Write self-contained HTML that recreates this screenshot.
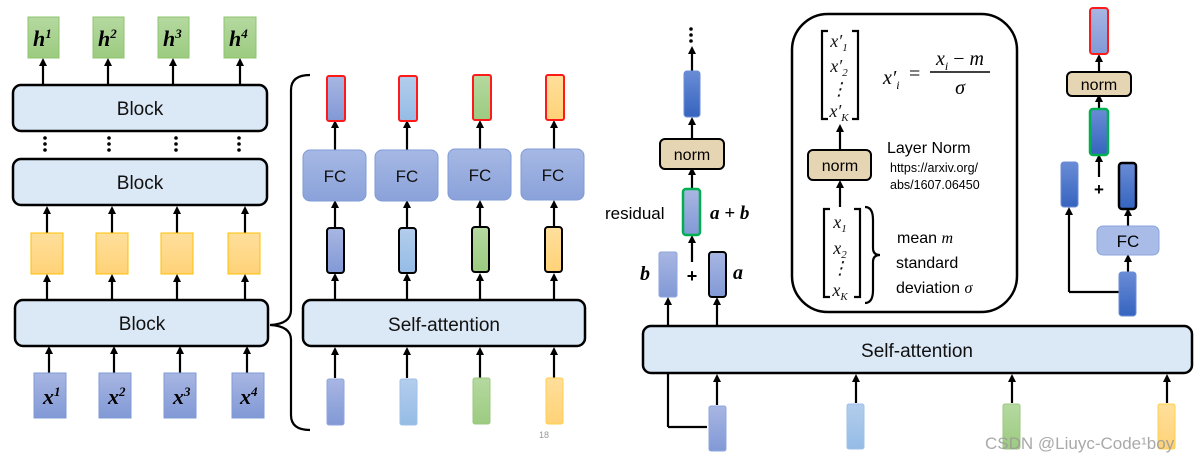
<!DOCTYPE html>
<html><head><meta charset="utf-8"><style>
html,body{margin:0;padding:0;background:#fff}
svg{display:block;font-family:"Liberation Sans",sans-serif}
.m,.m text{font-family:"Liberation Serif",serif;font-style:italic}
.mb,.mb text{font-family:"Liberation Serif",serif;font-style:italic;font-weight:bold}
</style></head><body>
<svg width="1203" height="463" viewBox="0 0 1203 463" xmlns="http://www.w3.org/2000/svg">
<defs>
<marker id="ar" markerWidth="8" markerHeight="8" refX="4" refY="4" orient="auto" markerUnits="userSpaceOnUse">
<path d="M0,0 L8,4 L0,8 z" fill="#000"/></marker>
<linearGradient id="gG" x1="0" y1="0" x2="0" y2="1"><stop offset="0" stop-color="#b5d9a0"/><stop offset="1" stop-color="#9ccb80"/></linearGradient>
<linearGradient id="gY" x1="0" y1="0" x2="0" y2="1"><stop offset="0" stop-color="#ffdf9c"/><stop offset="1" stop-color="#ffd277"/></linearGradient>
<linearGradient id="gB" x1="0" y1="0" x2="0" y2="1"><stop offset="0" stop-color="#a8b6e2"/><stop offset="1" stop-color="#8199d6"/></linearGradient>
<linearGradient id="gL" x1="0" y1="0" x2="0" y2="1"><stop offset="0" stop-color="#b3cdec"/><stop offset="1" stop-color="#95bce6"/></linearGradient>
<linearGradient id="gD" x1="0" y1="0" x2="0" y2="1"><stop offset="0" stop-color="#6a8cd6"/><stop offset="1" stop-color="#3564bf"/></linearGradient>
<linearGradient id="gF" x1="0" y1="0" x2="0" y2="1"><stop offset="0" stop-color="#a6b8e4"/><stop offset="1" stop-color="#8aa2da"/></linearGradient>
</defs>
<g stroke="#000" stroke-width="2.2" marker-end="url(#ar)">
<line x1="43" y1="85" x2="43" y2="62"/><line x1="108" y1="85" x2="108" y2="62"/><line x1="173" y1="85" x2="173" y2="62"/><line x1="240" y1="85" x2="240" y2="62"/>
<line x1="47" y1="233" x2="47" y2="210"/><line x1="112" y1="233" x2="112" y2="210"/><line x1="177" y1="233" x2="177" y2="210"/><line x1="245" y1="233" x2="245" y2="210"/>
<line x1="47" y1="300" x2="47" y2="278"/><line x1="112" y1="300" x2="112" y2="278"/><line x1="177" y1="300" x2="177" y2="278"/><line x1="245" y1="300" x2="245" y2="278"/>
<line x1="49" y1="373" x2="49" y2="350"/><line x1="114" y1="373" x2="114" y2="350"/><line x1="180" y1="373" x2="180" y2="350"/><line x1="247" y1="373" x2="247" y2="350"/>
<line x1="335" y1="150" x2="335" y2="124"/><line x1="407" y1="150" x2="407" y2="124"/><line x1="480" y1="150" x2="480" y2="124"/><line x1="554" y1="150" x2="554" y2="124"/>
<line x1="335" y1="228" x2="335" y2="204"/><line x1="407" y1="228" x2="407" y2="204"/><line x1="480" y1="228" x2="480" y2="204"/><line x1="554" y1="228" x2="554" y2="204"/>
<line x1="335" y1="300" x2="335" y2="277"/><line x1="407" y1="300" x2="407" y2="277"/><line x1="480" y1="300" x2="480" y2="277"/><line x1="554" y1="300" x2="554" y2="277"/>
<line x1="335" y1="378" x2="335" y2="351"/><line x1="407" y1="378" x2="407" y2="351"/><line x1="480" y1="378" x2="480" y2="351"/><line x1="554" y1="378" x2="554" y2="351"/>
<line x1="692" y1="71" x2="692" y2="50"/><line x1="692" y1="139" x2="692" y2="121"/>
<line x1="692" y1="189" x2="692" y2="171"/><line x1="692" y1="262" x2="692" y2="239"/>
<line x1="717" y1="326" x2="717" y2="301"/><line x1="668" y1="427" x2="668" y2="301"/>
<line x1="717" y1="405" x2="717" y2="378"/><line x1="856" y1="403" x2="856" y2="378"/><line x1="1012" y1="403" x2="1012" y2="378"/><line x1="1167" y1="403" x2="1167" y2="378"/>
<line x1="840" y1="150" x2="840" y2="128"/><line x1="840" y1="207" x2="840" y2="184"/>
<line x1="1099" y1="72" x2="1099" y2="58"/><line x1="1099" y1="109" x2="1099" y2="98"/>
<line x1="1099" y1="177" x2="1099" y2="158"/><line x1="1128" y1="226" x2="1128" y2="212"/>
<line x1="1128" y1="272" x2="1128" y2="258"/><line x1="1069" y1="292" x2="1069" y2="211"/>
</g>
<g stroke="#000" stroke-width="2.2" fill="none">
<polyline points="707,427 668,427"/>
<polyline points="1119,292 1069,292"/>
<path d="M310,75 Q291,75 291,90 L291,310 Q291,324 270,325 Q291,326 291,340 L291,415 Q291,430 310,430"/>
<path d="M865,207 Q873,207 873,220 L873,248 Q873,255 880,255 Q873,255 873,262 L873,290 Q873,303 865,303"/>
<path d="M828,31 L822,31 L822,119 L828,119 M852,31 L858,31 L858,119 L852,119"/>
<path d="M830,209 L824,209 L824,297 L830,297 M854,209 L860,209 L860,297 L854,297"/>
<line x1="930" y1="72" x2="990" y2="72" stroke-width="1.5"/>
</g>
<g fill="#000">
<circle cx="45" cy="138" r="1.8"/><circle cx="45" cy="144" r="1.8"/><circle cx="45" cy="150" r="1.8"/>
<circle cx="109" cy="138" r="1.8"/><circle cx="109" cy="144" r="1.8"/><circle cx="109" cy="150" r="1.8"/>
<circle cx="176" cy="138" r="1.8"/><circle cx="176" cy="144" r="1.8"/><circle cx="176" cy="150" r="1.8"/>
<circle cx="239" cy="138" r="1.8"/><circle cx="239" cy="144" r="1.8"/><circle cx="239" cy="150" r="1.8"/>
<circle cx="691" cy="29" r="1.8"/><circle cx="691" cy="35" r="1.8"/><circle cx="691" cy="41" r="1.8"/>
</g>
<g stroke="#8cc46e" stroke-width="1" fill="url(#gG)">
<rect x="28" y="17" width="31" height="41"/><rect x="93" y="17" width="31" height="41"/><rect x="158" y="17" width="31" height="41"/><rect x="224" y="17" width="32" height="41"/>
</g>
<g class="mb" font-size="22" fill="#000">
<text x="33" y="46">h<tspan font-size="13" dy="-8">1</tspan></text>
<text x="98" y="46">h<tspan font-size="13" dy="-8">2</tspan></text>
<text x="163" y="46">h<tspan font-size="13" dy="-8">3</tspan></text>
<text x="229" y="46">h<tspan font-size="13" dy="-8">4</tspan></text>
</g>
<g stroke="#000" stroke-width="2.5" fill="#dbe8f6">
<rect x="13" y="85" width="254" height="46" rx="8"/>
<rect x="13" y="159" width="254" height="46" rx="8"/>
<rect x="15" y="300" width="253" height="46" rx="8"/>
<rect x="303" y="300" width="282" height="46" rx="8"/>
<rect x="643" y="326" width="549" height="47" rx="8"/>
</g>
<g font-size="19" text-anchor="middle" fill="#111">
<text x="140" y="115">Block</text><text x="140" y="189">Block</text><text x="142" y="330">Block</text>
<text x="444" y="331">Self-attention</text><text x="917" y="357">Self-attention</text>
</g>
<g stroke="#ffc000" stroke-width="1" fill="url(#gY)">
<rect x="31" y="233" width="32" height="41"/><rect x="96" y="233" width="32" height="41"/><rect x="161" y="233" width="32" height="41"/><rect x="228" y="233" width="32" height="41"/>
</g>
<g stroke="#7f9bd6" stroke-width="1" fill="url(#gB)">
<rect x="34" y="373" width="32" height="45"/><rect x="99" y="373" width="32" height="45"/><rect x="164" y="373" width="32" height="45"/><rect x="232" y="373" width="32" height="45"/>
</g>
<g class="mb" font-size="22" fill="#000">
<text x="43" y="404">x<tspan font-size="13" dy="-8">1</tspan></text>
<text x="108" y="404">x<tspan font-size="13" dy="-8">2</tspan></text>
<text x="173" y="404">x<tspan font-size="13" dy="-8">3</tspan></text>
<text x="240" y="404">x<tspan font-size="13" dy="-8">4</tspan></text>
</g>
<g stroke="#ff1a1a" stroke-width="2">
<rect x="327" y="76" width="18" height="45" rx="2" fill="url(#gB)"/>
<rect x="399" y="76" width="18" height="45" rx="2" fill="url(#gL)"/>
<rect x="473" y="75" width="18" height="45" rx="2" fill="url(#gG)"/>
<rect x="546" y="75" width="18" height="45" rx="2" fill="url(#gY)"/>
</g>
<g stroke="#7f9bd6" stroke-width="1" fill="url(#gF)">
<rect x="303" y="150" width="63" height="51" rx="7"/><rect x="375" y="150" width="63" height="51" rx="7"/>
<rect x="448" y="149" width="63" height="51" rx="7"/><rect x="521" y="149" width="63" height="51" rx="7"/>
</g>
<g font-size="17" text-anchor="middle" fill="#111">
<text x="335" y="182">FC</text><text x="407" y="182">FC</text><text x="480" y="181">FC</text><text x="553" y="181">FC</text>
</g>
<g stroke="#000" stroke-width="2">
<rect x="327" y="228" width="17" height="45" rx="3" fill="url(#gB)"/>
<rect x="399" y="228" width="17" height="45" rx="3" fill="url(#gL)"/>
<rect x="472" y="227" width="17" height="45" rx="3" fill="url(#gG)"/>
<rect x="545" y="227" width="17" height="45" rx="3" fill="url(#gY)"/>
</g>
<rect x="327" y="379" width="17" height="46" rx="2" fill="url(#gB)" stroke="#8fa6dc"/>
<rect x="400" y="379" width="17" height="46" rx="2" fill="url(#gL)" stroke="#9fc0e8"/>
<rect x="473" y="378" width="17" height="46" rx="2" fill="url(#gG)" stroke="#9cc780"/>
<rect x="546" y="378" width="17" height="46" rx="2" fill="url(#gY)" stroke="#ffd04a"/>
<text x="539" y="438" font-size="9" fill="#999">18</text>
<rect x="684" y="71" width="16" height="46" rx="3" fill="url(#gD)" stroke="#6b8dd6"/>
<rect x="660" y="139" width="64" height="30" rx="5" fill="#e6d5b3" stroke="#000" stroke-width="2"/>
<text x="692" y="160" font-size="16" text-anchor="middle">norm</text>
<rect x="683" y="189" width="17" height="46" rx="3" fill="url(#gB)" stroke="#00b050" stroke-width="2.5"/>
<text x="605" y="219" font-size="17">residual</text>
<text x="710" y="219" class="mb" font-size="19">a + b</text>
<rect x="659" y="252" width="18" height="45" rx="2" fill="url(#gB)" stroke="#8fa6dc"/>
<rect x="709" y="252" width="17" height="45" rx="3" fill="url(#gB)" stroke="#000" stroke-width="2"/>
<text x="640" y="280" class="mb" font-size="20">b</text>
<text x="692" y="282" font-size="18" font-weight="bold" text-anchor="middle">+</text>
<text x="733" y="279" class="mb" font-size="20">a</text>
<rect x="709" y="406" width="17" height="45" rx="2" fill="url(#gB)" stroke="#8fa6dc"/>
<rect x="847" y="404" width="17" height="45" rx="2" fill="url(#gL)" stroke="#9fc0e8"/>
<rect x="1003" y="404" width="17" height="45" rx="2" fill="url(#gG)" stroke="#9cc780"/>
<rect x="1158" y="404" width="17" height="45" rx="2" fill="url(#gY)" stroke="#ffd04a"/>
<rect x="792" y="14" width="225" height="298" rx="36" fill="none" stroke="#000" stroke-width="2.5"/>
<g class="m" font-size="18" fill="#111" text-anchor="middle">
<text x="839" y="47">x′<tspan font-size="11" dy="4">1</tspan></text>
<text x="839" y="72">x′<tspan font-size="11" dy="4">2</tspan></text>
<text x="839" y="95">⋮</text>
<text x="839" y="117">x′<tspan font-size="11" dy="4">K</tspan></text>
<text x="840" y="228">x<tspan font-size="11" dy="4">1</tspan></text>
<text x="840" y="254">x<tspan font-size="11" dy="4">2</tspan></text>
<text x="840" y="274">⋮</text>
<text x="840" y="296">x<tspan font-size="11" dy="4">K</tspan></text>
</g>
<text x="883" y="84" class="m" font-size="20">x′<tspan font-size="12" dy="5">i</tspan></text>
<text x="909" y="80" font-size="20" font-family="Liberation Serif">=</text>
<text x="960" y="65" class="m" font-size="20" text-anchor="middle">x<tspan font-size="12" dy="5">i</tspan><tspan dy="-5" font-style="normal"> − </tspan>m</text>
<text x="960" y="94" class="m" font-size="20" text-anchor="middle">σ</text>
<rect x="808" y="150" width="63" height="30" rx="5" fill="#e6d5b3" stroke="#000" stroke-width="2"/>
<text x="840" y="171" font-size="16" text-anchor="middle">norm</text>
<text x="887" y="153" font-size="16">Layer Norm</text>
<text x="890" y="172" font-size="12.5">https://arxiv.org/</text>
<text x="890" y="189" font-size="12.5">abs/1607.06450</text>
<text x="897" y="243" font-size="16">mean <tspan class="m">m</tspan></text>
<text x="896" y="268" font-size="16">standard</text>
<text x="896" y="293" font-size="16">deviation <tspan class="m">σ</tspan></text>
<rect x="1090" y="8" width="18" height="46" rx="3" fill="url(#gB)" stroke="#ff1a1a" stroke-width="2"/>
<rect x="1067" y="72" width="64" height="24" rx="5" fill="#e6d5b3" stroke="#000" stroke-width="2"/>
<text x="1099" y="90" font-size="16" text-anchor="middle">norm</text>
<rect x="1090" y="109" width="18" height="46" rx="3" fill="url(#gD)" stroke="#00b050" stroke-width="2.5"/>
<rect x="1061" y="162" width="17" height="45" rx="3" fill="url(#gD)" stroke="#6b8dd6"/>
<text x="1099" y="195" font-size="17" font-weight="bold" text-anchor="middle">+</text>
<rect x="1119" y="163" width="17" height="46" rx="3" fill="url(#gD)" stroke="#000" stroke-width="2.5"/>
<rect x="1097" y="226" width="62" height="29" rx="6" fill="#a9bce8" stroke="#8aa4dc"/>
<text x="1128" y="247" font-size="17" text-anchor="middle">FC</text>
<rect x="1119" y="272" width="17" height="44" rx="3" fill="url(#gD)" stroke="#6b8dd6"/>
<text x="985" y="449" font-size="17" fill="#9a9a9a" fill-opacity="0.85">CSDN @Liuyc-Code¹boy</text>
</svg>
</body></html>
